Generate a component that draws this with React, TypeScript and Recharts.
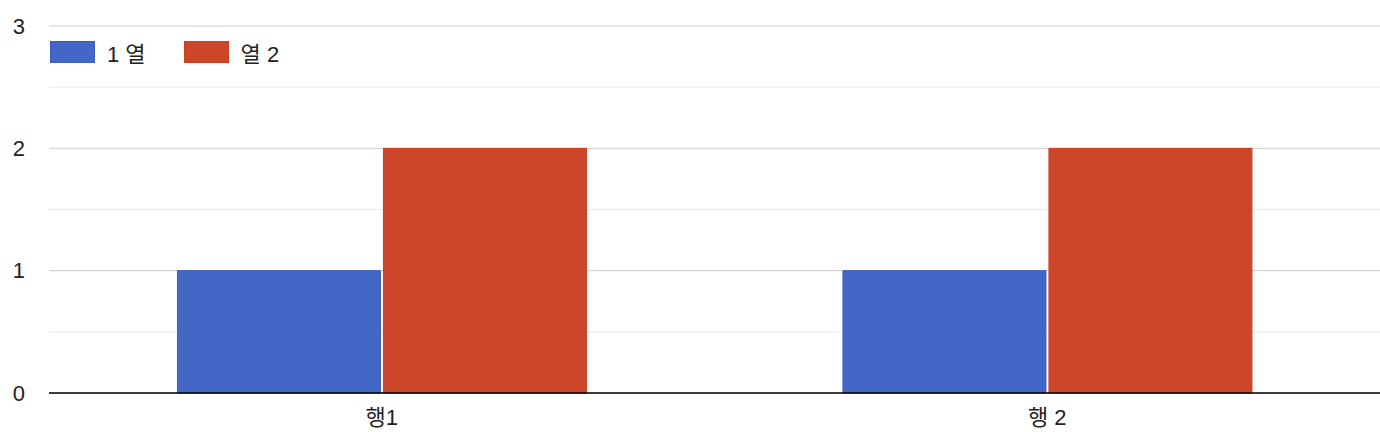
import React from "react";
import {
  BarChart,
  Bar,
  XAxis,
  YAxis,
  CartesianGrid,
} from "recharts";

document.body.style.margin = "0";

const categories = ["행1", "행 2"];
const col1Values = [1, 1];
const col2Values = [2, 2];
const majorTicks = [0, 1, 2, 3];
const minorTicks = [0.5, 1.5, 2.5];

const seriesNames = ["1 열", "열 2"];
const seriesFill = ["#4267C6", "#CC4729"];
const seriesStroke = ["#3A5EC0", "#D13B1F"];

const data = categories.map((name, i) => ({
  name,
  col1: col1Values[i],
  col2: col2Values[i],
}));

const FONT = "'Liberation Sans', Arial, 'Noto Sans CJK KR', sans-serif";

const ChartLegend = () => (
  <div
    style={{
      position: "absolute",
      left: 50,
      top: 36,
      display: "flex",
      alignItems: "center",
      fontFamily: FONT,
      fontSize: 22,
      color: "#222",
    }}
  >
    {seriesNames.map((s, i) => (
      <div key={s} style={{ display: "flex", alignItems: "center", marginRight: 38 }}>
        <div
          style={{
            width: 43,
            height: 20,
            background: seriesFill[i],
            border: `1px solid ${seriesStroke[i]}`,
            marginRight: 12,
          }}
        />
        <span>{s}</span>
      </div>
    ))}
  </div>
);

export default function App() {
  return (
    <div style={{ position: "relative", width: 1380, height: 432, background: "#fff" }}>
      <BarChart
        width={1380}
        height={432}
        data={data}
        margin={{ top: 26, right: 0, bottom: 0, left: 0 }}
        barCategoryGap="19.3%"
        barGap={3}
      >
        <CartesianGrid vertical={false} stroke="#ebebeb" horizontalValues={minorTicks} />
        <CartesianGrid vertical={false} stroke="#cccccc" />
        <XAxis
          dataKey="name"
          height={39}
          axisLine={{ stroke: "#000", strokeWidth: 1.5 }}
          tickLine={false}
          tickMargin={10}
          tick={{ fill: "#222", fontSize: 22, fontFamily: FONT }}
        />
        <YAxis
          domain={[0, 3]}
          ticks={majorTicks}
          width={49}
          axisLine={false}
          tickLine={false}
          tickSize={0}
          tickMargin={24}
          tick={{ fill: "#222", fontSize: 22, fontFamily: FONT }}
        />
        <Bar
          dataKey="col1"
          fill={seriesFill[0]}
          stroke={seriesStroke[0]}
          strokeWidth={1}
          isAnimationActive={false}
        />
        <Bar
          dataKey="col2"
          fill={seriesFill[1]}
          stroke={seriesStroke[1]}
          strokeWidth={1}
          isAnimationActive={false}
        />
      </BarChart>
      <ChartLegend />
    </div>
  );
}
